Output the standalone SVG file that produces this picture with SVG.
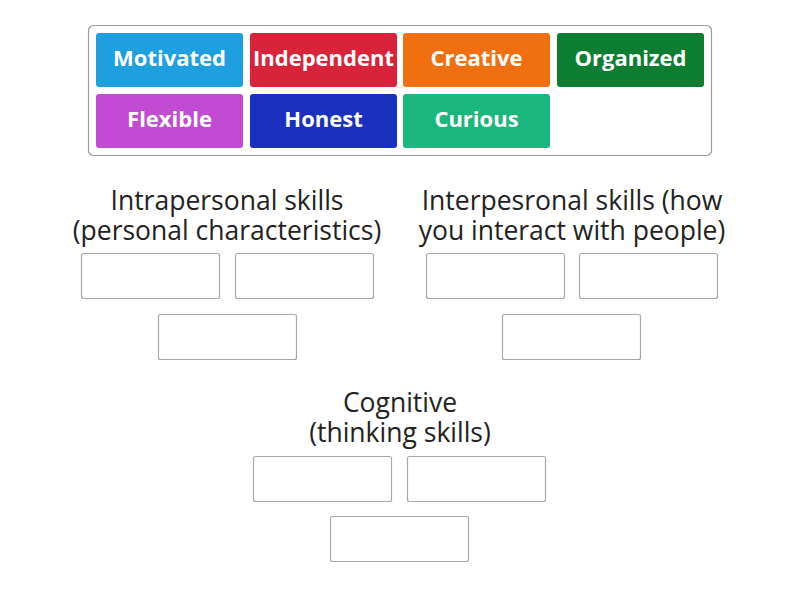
<svg xmlns="http://www.w3.org/2000/svg" width="800" height="600" viewBox="0 0 800 600">
<style>
.tile{stroke:none}
.tt{font-family:"Open Sans","Liberation Sans",sans-serif;font-weight:bold;font-size:22px;fill:#ffffff;text-anchor:middle}
.hd{font-family:"Open Sans","Liberation Sans",sans-serif;font-size:26.5px;fill:#222222;text-anchor:middle}
.box{fill:#ffffff;stroke:#a8a8a8;stroke-width:1.2}
</style>
<rect width="800" height="600" fill="#ffffff"/>
<rect x="88.5" y="25.5" width="623" height="130" rx="5" fill="#ffffff" stroke="#9a9a9a" stroke-width="1.2"/>
<g id="tile-motivated"><rect class="tile" x="96" y="33" width="147" height="54" rx="3" fill="#1e9fe0"/><text class="tt" x="169.5" y="66">Motivated</text></g>
<g id="tile-independent"><rect class="tile" x="250" y="33" width="147" height="54" rx="3" fill="#d9233b"/><text class="tt" x="323.5" y="66">Independent</text></g>
<g id="tile-creative"><rect class="tile" x="403" y="33" width="147" height="54" rx="3" fill="#f07011"/><text class="tt" x="476.5" y="66">Creative</text></g>
<g id="tile-organized"><rect class="tile" x="557" y="33" width="147" height="54" rx="3" fill="#0c7d31"/><text class="tt" x="630.5" y="66">Organized</text></g>
<g id="tile-flexible"><rect class="tile" x="96" y="94" width="147" height="54" rx="3" fill="#c14bd2"/><text class="tt" x="169.5" y="127">Flexible</text></g>
<g id="tile-honest"><rect class="tile" x="250" y="94" width="147" height="54" rx="3" fill="#1b30bf"/><text class="tt" x="323.5" y="127">Honest</text></g>
<g id="tile-curious"><rect class="tile" x="403" y="94" width="147" height="54" rx="3" fill="#19b67e"/><text class="tt" x="476.5" y="127">Curious</text></g>

<g id="group-intrapersonal">
<text class="hd" x="227" y="210">Intrapersonal skills</text>
<text class="hd" x="227" y="240">(personal characteristics)</text>
<rect class="box" x="81.5" y="253.5" width="138" height="45" rx="2"/>
<rect class="box" x="235.5" y="253.5" width="138" height="45" rx="2"/>
<rect class="box" x="158.5" y="314.5" width="138" height="45" rx="2"/>
</g>
<g id="group-interpersonal">
<text class="hd" x="572" y="210">Interpesronal skills (how</text>
<text class="hd" x="572" y="240">you interact with people)</text>
<rect class="box" x="426.5" y="253.5" width="138" height="45" rx="2"/>
<rect class="box" x="579.5" y="253.5" width="138" height="45" rx="2"/>
<rect class="box" x="502.5" y="314.5" width="138" height="45" rx="2"/>
</g>
<g id="group-cognitive">
<text class="hd" x="400" y="412">Cognitive</text>
<text class="hd" x="400" y="442">(thinking skills)</text>
<rect class="box" x="253.5" y="456.5" width="138" height="45" rx="2"/>
<rect class="box" x="407.5" y="456.5" width="138" height="45" rx="2"/>
<rect class="box" x="330.5" y="516.5" width="138" height="45" rx="2"/>
</g>
<g id="connectors"></g>
</svg>
